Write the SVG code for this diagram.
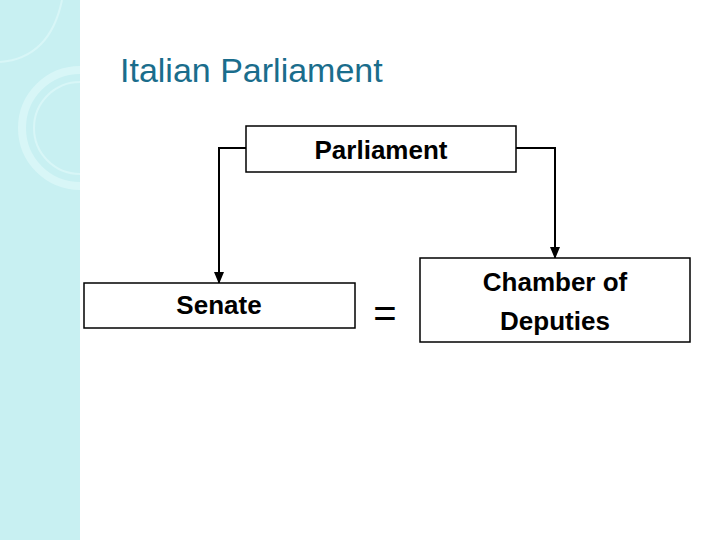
<svg xmlns="http://www.w3.org/2000/svg" width="720" height="540" viewBox="0 0 720 540">
<style>
.box{fill:#fff;stroke:#000;stroke-width:1.5}
.t{font-family:"Liberation Sans",Arial,sans-serif;font-weight:bold;fill:#000;text-anchor:middle}
.c{fill:none;stroke:#000;stroke-width:2}
</style>
<defs>
<marker id="a" markerWidth="12" markerHeight="10" refX="11" refY="5" orient="auto" markerUnits="userSpaceOnUse" viewBox="0 0 12 10"><path d="M0,0 L12,5 L0,10 Z" fill="#000"/></marker>
<clipPath id="cb"><rect x="0" y="0" width="80" height="540"/></clipPath>
</defs>
<rect width="720" height="540" fill="#fff"/>
<g id="band">
<rect x="0" y="0" width="80" height="540" fill="#c8f0f2"/>
<g clip-path="url(#cb)" fill="none" stroke="#d8f6f7">
<path d="M0,62 Q50,58 62,0" stroke-width="2"/>
<circle cx="80" cy="128" r="58" stroke-width="8"/>
<circle cx="80" cy="128" r="46" stroke-width="2"/>
</g>
</g>
<text x="120" y="82" font-family="Liberation Sans,Arial,sans-serif" font-size="34" fill="#1a6d8c">Italian Parliament</text>
<g id="connectors">
<path class="c" d="M246,148 H219 V283" marker-end="url(#a)"/>
<path class="c" d="M516,148 H555 V258" marker-end="url(#a)"/>
</g>
<g id="parliament"><rect class="box" x="246" y="126" width="270" height="46"/><text class="t" x="381" y="159" font-size="26">Parliament</text></g>
<g id="senate"><rect class="box" x="84" y="283" width="271" height="45"/><text class="t" x="219" y="314" font-size="26">Senate</text></g>
<g id="eq"><text x="385" y="327" font-family="Liberation Sans,Arial,sans-serif" font-size="40" text-anchor="middle">=</text></g>
<g id="chamber"><rect class="box" x="420" y="258" width="270" height="84"/><text class="t" x="555" y="291" font-size="26">Chamber of</text><text class="t" x="555" y="330" font-size="26">Deputies</text></g>
</svg>
